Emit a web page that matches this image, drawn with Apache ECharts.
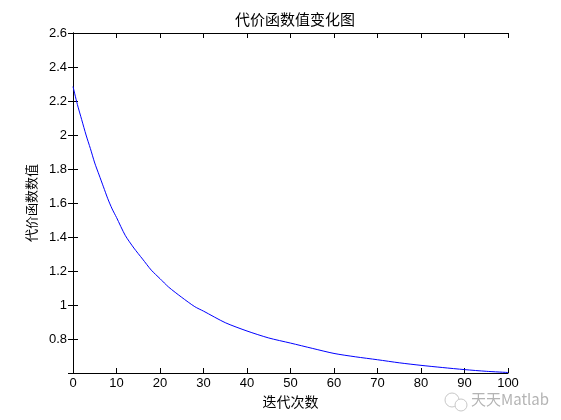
<!DOCTYPE html>
<html>
<head>
<meta charset="utf-8">
<script src="https://cdn.jsdelivr.net/npm/echarts@6/dist/echarts.min.js"></script>
<style>
html,body{margin:0;padding:0;background:#fff;}
#chart{width:561px;height:420px;}
</style>
</head>
<body>
<div id="chart"></div>
<script>
// Data
const iterations = [0, 1, 2, 3, 4, 5, 6, 7, 8, 9, 10, 12, 14, 16, 18, 20, 22, 25, 28, 30, 35, 40, 45, 50, 55, 60, 65, 70, 75, 80, 85, 90, 95, 100];
const costValues = [2.285, 2.18, 2.09, 2.0, 1.92, 1.835, 1.765, 1.695, 1.625, 1.565, 1.515, 1.41, 1.335, 1.27, 1.205, 1.155, 1.105, 1.045, 0.99, 0.964, 0.896, 0.847, 0.806, 0.776, 0.745, 0.715, 0.695, 0.678, 0.66, 0.645, 0.632, 0.62, 0.61, 0.603];
const xTicks = [0, 10, 20, 30, 40, 50, 60, 70, 80, 90, 100];
const yTickLabels = ['0.8', '1', '1.2', '1.4', '1.6', '1.8', '2', '2.2', '2.4', '2.6'];
const titleText = '代价函数值变化图';
const xName = '迭代次数';
const yName = '代价函数数值';
const watermark = '天天Matlab';

const seriesData = iterations.map((x, i) => [x, costValues[i]]);
const latin = 'Liberation Sans, Arial, sans-serif';
const cjk = 'Noto Sans CJK SC, sans-serif';

const chart = echarts.init(document.getElementById('chart'));
const axisLine = { show: true, lineStyle: { color: '#000', width: 1 } };
const tick = { show: true, inside: true, length: 5, lineStyle: { color: '#000' } };

chart.setOption({
  animation: false,
  backgroundColor: '#fff',
  title: {
    text: titleText,
    left: 290,
    top: 7,
    textAlign: 'center',
    textStyle: { fontFamily: cjk, fontSize: 15, fontWeight: 'normal', color: '#000' }
  },
  grid: { left: 73, right: 53, top: 33, bottom: 47, containLabel: false },
  xAxis: [
    {
      type: 'value', min: xTicks[0], max: xTicks[xTicks.length - 1], interval: 10,
      position: 'bottom',
      axisLine: axisLine, axisTick: tick, splitLine: { show: false },
      axisLabel: { color: '#000', fontFamily: latin, fontSize: 13, margin: 4 },
      name: xName, nameLocation: 'middle', nameGap: 20,
      nameTextStyle: { fontFamily: cjk, fontSize: 14, color: '#000' }
    },
    {
      type: 'value', min: xTicks[0], max: xTicks[xTicks.length - 1], interval: 10,
      position: 'top',
      axisLine: axisLine, axisTick: tick, splitLine: { show: false },
      axisLabel: { show: false }
    }
  ],
  yAxis: [
    {
      type: 'value', min: 0.6, max: 2.6, interval: 0.2,
      position: 'left',
      axisLine: axisLine, axisTick: tick, splitLine: { show: false },
      axisLabel: {
        color: '#000', fontFamily: latin, fontSize: 13, margin: 6,
        formatter: function (v) {
          const s = String(Math.round(v * 10) / 10);
          return yTickLabels.indexOf(s) >= 0 ? s : '';
        }
      },
      name: yName, nameLocation: 'middle', nameGap: 31, nameRotate: 90,
      nameTextStyle: { fontFamily: cjk, fontSize: 13, color: '#000' }
    },
    {
      type: 'value', min: 0.6, max: 2.6, interval: 0.2,
      position: 'right',
      axisLine: axisLine, axisTick: tick, splitLine: { show: false },
      axisLabel: { show: false }
    }
  ],
  series: [
    {
      type: 'line',
      xAxisIndex: 0, yAxisIndex: 0,
      data: seriesData,
      showSymbol: false,
      smooth: 0.25,
      lineStyle: { color: '#0000ff', width: 1 },
      itemStyle: { color: '#0000ff' }
    }
  ],
  graphic: [
    {
      type: 'circle', shape: { cx: 452, cy: 400, r: 7 },
      style: { fill: 'none', stroke: '#c8c8c8', lineWidth: 1 }
    },
    {
      type: 'circle', shape: { cx: 461, cy: 405, r: 6 },
      style: { fill: '#fff', stroke: '#c8c8c8', lineWidth: 1 }
    },
    {
      type: 'text', left: 471, top: 392,
      style: { text: watermark, fill: '#b4b4b4', font: '15px ' + cjk }
    }
  ]
});
</script>
</body>
</html>
